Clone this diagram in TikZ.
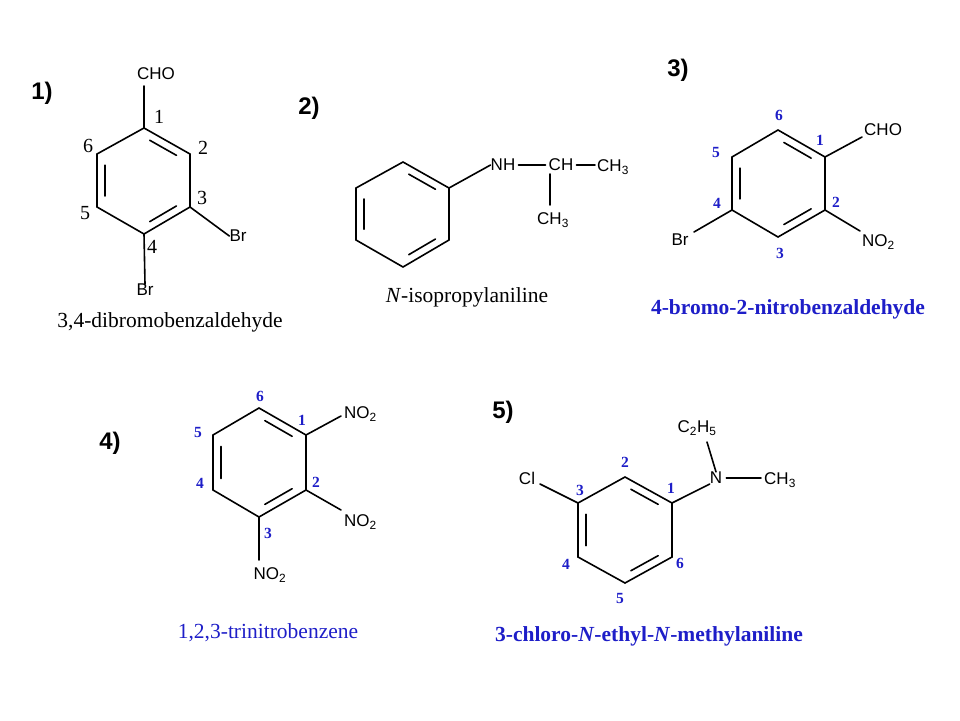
\documentclass[tikz,border=0pt]{standalone}
\usepackage{fontspec}
\setmainfont{Liberation Serif}
\setsansfont{Liberation Sans}
\usetikzlibrary{calc}
\definecolor{nblue}{RGB}{30,30,200}
\newcommand{\sub}[1]{\textsubscript{#1}}
\tikzset{
  bond/.style={line width=1.6pt,line cap=round},
  lab/.style={font=\sffamily\fontsize{17}{17}\selectfont,inner sep=0pt},
  bnum/.style={font=\bfseries\fontsize{15.5}{15.5}\selectfont,text=nblue,inner sep=0pt},
  knum/.style={font=\fontsize{20}{20}\selectfont,inner sep=0pt},
  moltag/.style={font=\sffamily\bfseries\fontsize{24}{24}\selectfont,inner sep=0pt},
  cname/.style={font=\fontsize{21.5}{21.5}\selectfont,inner sep=0pt},
  bname/.style={font=\bfseries\fontsize{21.5}{21.5}\selectfont,text=nblue,inner sep=0pt}
}
\newcommand{\ring}[7]{% prefix, 6 points
  \coordinate (#1a) at #2; \coordinate (#1b) at #3; \coordinate (#1c) at #4;
  \coordinate (#1d) at #5; \coordinate (#1e) at #6; \coordinate (#1f) at #7;
  \coordinate (#1o) at ($(#1a)!0.5!(#1d)$);
  \draw[bond] (#1a)--(#1b)--(#1c)--(#1d)--(#1e)--(#1f)--cycle;}
\newcommand{\dbl}[3]{\draw[bond] ($0.7055*(#1)+0.1245*(#2)+0.17*(#3)$) -- ($0.1245*(#1)+0.7055*(#2)+0.17*(#3)$);}
\begin{document}
\begin{tikzpicture}[x=1pt,y=-1pt]
\useasboundingbox[fill=white] (0,0) rectangle (960,720);
% ---------- 1
\node[moltag] (t1) at (42,93) {1)};
\ring{A}{(144,128)}{(190,154)}{(190,207)}{(144,234)}{(97,207)}{(97,154)}
\dbl{Aa}{Ab}{Ao}\dbl{Ac}{Ad}{Ao}\dbl{Ae}{Af}{Ao}
\node[lab] (a1) at (156,74) {CHO};
\coordinate (a1b) at (144,86);
\draw[bond] (Aa)--(a1b);
\node[lab] (a2) at (238,236) {Br};
\draw[bond] (Ac)--(a2.west);
\node[lab] (a3) at (145,290) {Br};
\draw[bond] (Ad)--(a3.north);
\node[knum] at (159,117) {1};
\node[knum] at (203,148) {2};
\node[knum] at (202,198) {3};
\node[knum] at (152,247) {4};
\node[knum] at (85,213) {5};
\node[knum] at (88,146) {6};
\node[cname] (n1) at (170,322) {3,4-dibromobenzaldehyde};
% ---------- 2
\node[moltag] (t2) at (309,108) {2)};
\ring{B}{(403,162)}{(449,188)}{(449,240)}{(403,267)}{(356,240)}{(356,188)}
\dbl{Ba}{Bb}{Bo}\dbl{Bc}{Bd}{Bo}\dbl{Be}{Bf}{Bo}
\node[lab] (b1) at (503,165) {NH};
\node[lab] (b2) at (561,165) {CH};
\node[lab,anchor=west] (b3) at (597,167) {CH\sub{3}};
\node[lab,anchor=west] (b4) at (537,220) {CH\sub{3}};
\draw[bond] (Bb)--(b1.west);
\draw[bond] ($(b1.east)+(3,0)$)--($(b2.west)+(-3,0)$);
\draw[bond] ($(b2.east)+(3,0)$)--($(b3.west)+(-2,-2)$);
\draw[bond] (550,174)--(550,205);
\node[cname] (n2) at (467,297) {\textit{N}-isopropylaniline};
% ---------- 3
\node[moltag] (t3) at (678,70) {3)};
\ring{C}{(778,130)}{(825,157)}{(825,210)}{(778,237)}{(732,210)}{(732,157)}
\dbl{Ca}{Cb}{Co}\dbl{Cc}{Cd}{Co}\dbl{Ce}{Cf}{Co}
\node[lab,anchor=west] (c1) at (864,130) {CHO};
\draw[bond] (Cb)--(862,137);
\node[lab,anchor=west] (c2) at (862,242) {NO\sub{2}};
\draw[bond] (Cc)--(860,231);
\node[lab] (c3) at (680,240) {Br};
\draw[bond] (Ce)--(694,232);
\node[bnum] at (779,115) {6};
\node[bnum] at (820,140) {1};
\node[bnum] at (716,152) {5};
\node[bnum] at (717,203) {4};
\node[bnum] at (836,202) {2};
\node[bnum] at (780,253) {3};
\node[bname] (n3) at (788,309) {4-bromo-2-nitrobenzaldehyde};
% ---------- 4
\node[moltag] (t4) at (110,443) {4)};
\ring{D}{(259,408)}{(306,435)}{(306,490)}{(259,517)}{(213,490)}{(213,435)}
\dbl{Da}{Db}{Do}\dbl{Dc}{Dd}{Do}\dbl{De}{Df}{Do}
\node[lab,anchor=west] (d1) at (344,414) {NO\sub{2}};
\draw[bond] (Db)--(341,416);
\node[lab,anchor=west] (d2) at (344,522) {NO\sub{2}};
\draw[bond] (Dc)--(341,510);
\node[lab] (d3) at (270,575) {NO\sub{2}};
\draw[bond] (Dd)--(259,560);
\node[bnum] at (260,396) {6};
\node[bnum] at (302,420) {1};
\node[bnum] at (198,432) {5};
\node[bnum] at (200,483) {4};
\node[bnum] at (316,482) {2};
\node[bnum] at (268,533) {3};
\node[cname,text=nblue] (n4) at (268,633) {1,2,3-trinitrobenzene};
% ---------- 5
\node[moltag] (t5) at (503,412) {5)};
\ring{E}{(625,477)}{(672,503)}{(672,557)}{(625,583)}{(578,557)}{(578,503)}
\dbl{Ea}{Eb}{Eo}\dbl{Ec}{Ed}{Eo}\dbl{Ee}{Ef}{Eo}
\node[lab] (e1) at (716,478) {N};
\draw[bond] (Eb)--(e1.south west);
\node[lab] (e2) at (697,428) {C\sub{2}H\sub{5}};
\draw[bond] (707,442)--(e1.north);
\node[lab,anchor=west] (e3) at (764,480) {CH\sub{3}};
\draw[bond] ($(e1.east)+(4,0)$)--(761,478);
\node[lab] (e4) at (527,478) {Cl};
\draw[bond] (Ef)--(540,484);
\node[bnum] at (625,462) {2};
\node[bnum] at (671,488) {1};
\node[bnum] at (580,490) {3};
\node[bnum] at (566,564) {4};
\node[bnum] at (680,563) {6};
\node[bnum] at (620,598) {5};
\node[bname] (n5) at (649,636) {3-chloro-\textit{N}-ethyl-\textit{N}-methylaniline};
\end{tikzpicture}
\end{document}
